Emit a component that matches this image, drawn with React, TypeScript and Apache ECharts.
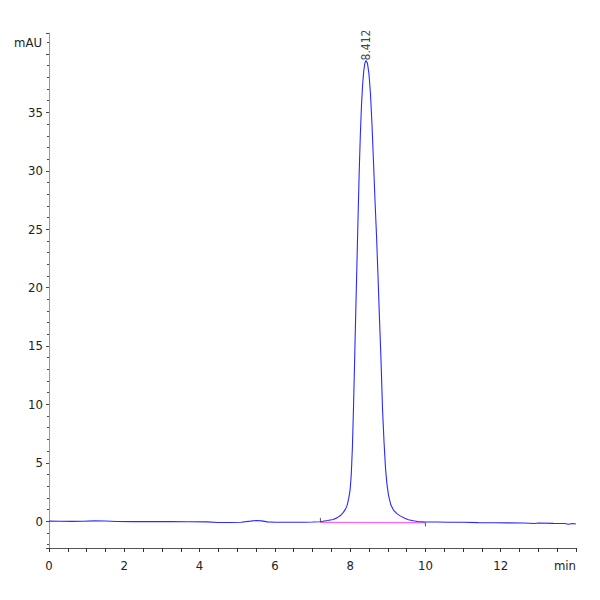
import React, { useEffect, useRef } from "react";
import * as echarts from "echarts";

const timeMin = [
  0, 0.3, 0.6, 0.9, 1.2, 1.5, 1.8, 2.2, 2.7, 3.2, 3.7, 4.2, 4.5, 4.8, 5.1, 5.35, 5.5, 5.65, 5.8, 6.0, 6.4, 6.8, 7.0,
  7.2, 7.4, 7.55, 7.65, 7.74, 7.82, 7.88, 7.92, 7.96, 8.0, 8.03, 8.06, 8.09, 8.12, 8.15, 8.18, 8.21, 8.24, 8.27,
  8.3, 8.33, 8.36, 8.39, 8.42, 8.46, 8.5, 8.54, 8.58, 8.62, 8.66, 8.7, 8.74, 8.78, 8.82, 8.86, 8.9, 8.94, 8.98,
  9.02, 9.08, 9.15, 9.25, 9.33, 9.45, 9.55, 9.68, 9.8, 10.0, 10.3, 10.6, 11.0, 11.4, 11.8, 12.2, 12.6, 12.9, 13.0,
  13.4, 13.7, 13.8, 13.9, 14.0,
];
const signalMAU = [
  0.0, -0.01, -0.02, -0.01, 0.02, 0.01, -0.03, -0.04, -0.04, -0.04, -0.05, -0.06, -0.12, -0.12, -0.09, 0.0, 0.06,
  0.02, -0.06, -0.1, -0.1, -0.09, -0.08,
  -0.05, 0.05, 0.14, 0.28, 0.48, 0.75, 1.05, 1.35, 1.9, 2.7, 4.0, 6.3, 9.8, 13.9, 18.0, 22.0, 26.0, 29.8, 33.0,
  35.5, 37.3, 38.5, 39.2, 39.45, 39.2, 38.3, 36.6, 34.0, 30.8, 27.5, 24.5, 21.0, 17.3, 13.8, 9.6, 6.8, 4.5, 3.1,
  2.2, 1.4, 0.95, 0.62, 0.45, 0.25, 0.12, 0.03, -0.03, -0.08, -0.07, -0.1, -0.1, -0.13, -0.14, -0.15, -0.16, -0.2,
  -0.16, -0.19, -0.2, -0.26, -0.2, -0.24,
];
const baselineStart = [7.21, -0.1];
const baselineEnd = [10.0, -0.13];
const startMarkTop = 0.28;
const endMarkBottom = -0.45;
const peakTime = 8.412;
const peakHeight = 39.45;
const peakLabel = "8.412";
const xTickLabels = ["0", "2", "4", "6", "8", "10", "12"];
const xUnitLabel = "min";
const yUnitLabel = "mAU";

const FONT = "'Liberation Sans Narrow', 'DejaVu Sans Condensed', 'Liberation Sans', sans-serif";

export default function App() {
  const ref = useRef<HTMLDivElement>(null);
  useEffect(() => {
    if (!ref.current) return;
    const chart = echarts.init(ref.current, undefined, { renderer: "svg" });
    const trace = timeMin.map((t, i) => [t, signalMAU[i]]);
    chart.setOption({
      animation: false,
      backgroundColor: "#ffffff",
      grid: { left: 49, right: 24, top: 33, bottom: 52, containLabel: false },
      xAxis: {
        type: "value",
        min: 0,
        max: 14,
        interval: 2,
        axisLine: { show: true, onZero: false, lineStyle: { color: "#555", width: 1 } },
        axisTick: { show: true, inside: false, length: 4, lineStyle: { color: "#333" } },
        minorTick: { show: true, splitNumber: 4, length: 4, lineStyle: { color: "#333" } },
        splitLine: { show: false },
        axisLabel: {
          margin: 11,
          fontFamily: FONT,
          fontSize: 13,
          color: "#222",
          showMaxLabel: true,
          alignMaxLabel: "right",
          formatter: (v: number) => {
            const s = String(v);
            if (v === 14) return xUnitLabel;
            return xTickLabels.indexOf(s) >= 0 ? s : "";
          },
        },
      },
      yAxis: {
        type: "value",
        min: -2.3,
        max: 41.8,
        splitNumber: 9,
        name: yUnitLabel,
        nameLocation: "end",
        nameGap: -9,
        nameTextStyle: {
          fontFamily: FONT,
          fontSize: 13,
          color: "#222",
          align: "right",
          verticalAlign: "middle",
          padding: [0, 7, 0, 0],
        },
        axisLine: { show: true, onZero: false, lineStyle: { color: "#999", width: 1 } },
        axisTick: { show: true, length: 3, lineStyle: { color: "#444" } },
        minorTick: { show: true, splitNumber: 5, length: 2, lineStyle: { color: "#444" } },
        splitLine: { show: false },
        axisLabel: {
          margin: 6,
          showMinLabel: false,
          showMaxLabel: false,
          fontFamily: FONT,
          fontSize: 13,
          color: "#222",
          formatter: (v: number) => (v === 40 || v < 0 || v > 41 || Math.abs(v % 5) > 1e-6 ? "" : String(v)),
        },
      },
      series: [
        {
          type: "line",
          data: [baselineStart, baselineEnd],
          showSymbol: false,
          lineStyle: { color: "#ff66ff", width: 1.2 },
          z: 2,
        },
        {
          type: "line",
          data: [baselineStart, [baselineStart[0], startMarkTop]],
          showSymbol: false,
          lineStyle: { color: "#555", width: 1 },
          z: 3,
        },
        {
          type: "line",
          data: [baselineEnd, [baselineEnd[0], endMarkBottom]],
          showSymbol: false,
          lineStyle: { color: "#555", width: 1 },
          z: 3,
        },
        {
          type: "line",
          data: trace,
          showSymbol: false,
          smooth: false,
          lineStyle: { color: "#2a2aff", width: 1.1 },
          z: 4,
        },
        {
          type: "scatter",
          data: [[peakTime, peakHeight]],
          symbolSize: 0,
          z: 5,
          label: {
            show: true,
            position: "top",
            distance: 0,
            rotate: 90,
            align: "left",
            verticalAlign: "middle",
            formatter: peakLabel,
            fontFamily: FONT,
            fontSize: 12,
            color: "#111",
          },
        },
      ],
    });
    return () => chart.dispose();
  }, []);
  return (
    <div
      ref={ref}
      style={{ position: "fixed", left: 0, top: 0, width: 600, height: 600, background: "#fff" }}
    />
  );
}
